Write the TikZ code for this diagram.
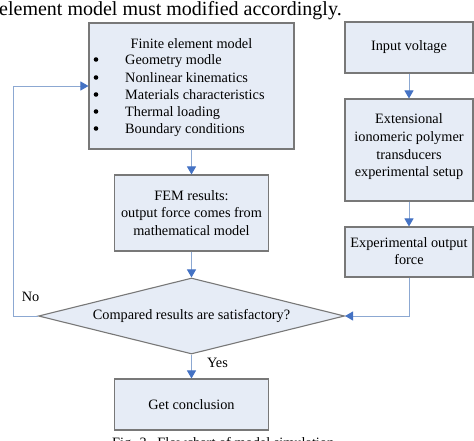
\documentclass[tikz,border=0pt]{standalone}
\usepackage{fontspec}
\setmainfont{Liberation Serif}
\usetikzlibrary{arrows.meta,shapes.geometric}
\definecolor{boxfill}{RGB}{230,236,246}
\definecolor{boxline}{RGB}{120,120,120}
\definecolor{linkc}{RGB}{140,168,210}
\definecolor{tipc}{RGB}{68,114,196}
\tikzset{
  box/.style={draw=boxline, fill=boxfill, line width=1.1pt, inner sep=0pt},
  link/.style={draw=linkc, line width=1pt, -{Triangle[length=8pt,width=9pt,color=tipc,fill=tipc]}},
  txt/.style={font=\fontsize{14.3}{17.7}\selectfont, inner sep=0pt, align=center},
  bigtxt/.style={font=\fontsize{20}{24}\selectfont, inner sep=0pt},
  bulletdot/.style={circle, fill=black, minimum size=4.6pt, inner sep=0pt}
}
\begin{document}
\begin{tikzpicture}[x=1pt,y=-1pt]
\clip (0,0) rectangle (474,440);
\fill[white] (0,0) rectangle (474,440);
\useasboundingbox (0,0) rectangle (474,440);

% text above
\node[bigtxt, anchor=base west] (above) at (-1,15) {element model must modified accordingly.};

% boxes
\node[box, minimum width=205pt, minimum height=126pt] (model) at (191.5,86) {};
\node[box, minimum width=154pt, minimum height=76pt] (fem) at (191.5,213) {};
\node[box, shape=diamond, minimum width=306pt, minimum height=76pt] (dec) at (191.5,316) {};
\node[box, minimum width=154pt, minimum height=51pt] (concl) at (191.5,404.5) {};
\node[box, minimum width=128pt, minimum height=51pt] (input) at (409,47.5) {};
\node[box, minimum width=128pt, minimum height=102pt] (setup) at (409,150) {};
\node[box, minimum width=128pt, minimum height=50pt] (exp) at (409,252) {};

% texts
\node[txt, anchor=base] (mtitle) at (191.5,48) {Finite element model};
\foreach \y/\t [count=\i] in {64/Geometry modle, 82/Nonlinear kinematics, 99/Materials characteristics, 116/Thermal loading, 133/Boundary conditions}{
  \node[bulletdot] (b\i) at (96,\y-4.5) {};
  \node[txt, anchor=base west] (it\i) at (125,\y) {\t};
}
\node[txt] (femt) at (191.5,213) {FEM results:\\output force comes from\\mathematical model};
\node[txt] (dect) at (191.5,316) {Compared results are satisfactory?};
\node[txt] (conclt) at (191.5,404.5) {Get conclusion};
\node[txt] (inputt) at (409,47.5) {Input voltage};
\node[txt] (setupt) at (409,147) {Extensional\\ionomeric polymer\\transducers\\experimental setup};
\node[txt] (expt) at (409,251) {Experimental output\\force};

% connectors
\draw[link] (model.south) -- (fem.north);
\draw[link] (fem.south) -- (dec.north);
\draw[link] (dec.south) -- (concl.north);
\draw[link] (input.south) -- (setup.north);
\draw[link] (setup.south) -- (exp.north);
\draw[link] (exp.south) |- (dec.east);
\coordinate (loopc) at (13,316);
\draw[link] (dec.west) -- (loopc) |- (model.west);

\node[txt] (no) at (30.5,297) {No};
\node[txt] (yes) at (217.5,363) {Yes};

% caption (cut by the lower edge, as in the reference)
\node[txt, anchor=base west] (cap) at (112,447) {Fig. 3.\ \ Flowchart of model simulation};
\end{tikzpicture}
\end{document}
